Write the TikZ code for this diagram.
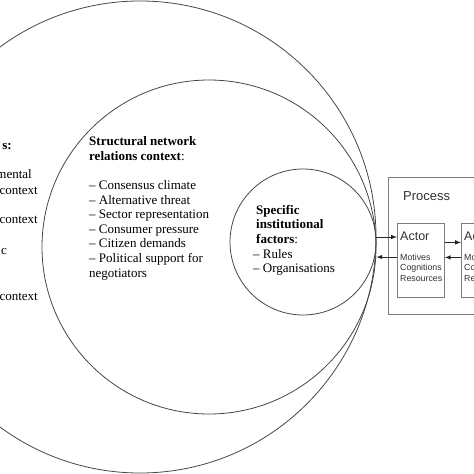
\documentclass[tikz,border=0pt]{standalone}
\usepackage{fontspec}
\setmainfont{Liberation Serif}
\newfontfamily\arialfont{Liberation Sans}
\usepackage{tikz}
\usetikzlibrary{arrows}
\usetikzlibrary{calc}

\definecolor{ringgray}{RGB}{70,70,70}
\definecolor{boxgray}{RGB}{125,125,125}
\definecolor{sanstext}{RGB}{50,50,50}

\tikzset{
  ring/.style={draw, circle, line width=0.8pt, color=ringgray, inner sep=0pt},
  frame/.style={draw, line width=0.8pt, color=boxgray, inner sep=0pt,
                anchor=north west},
  serif/.style={inner sep=0pt, font=\fontsize{13}{14.6}\selectfont, align=left},
  cutword/.style={inner sep=0pt, font=\fontsize{13}{15.2}\selectfont, anchor=base east},
  sans/.style={inner sep=0pt, text=sanstext, anchor=base west},
  flow/.style={-latex, line width=1pt, color=black!85}
}

\begin{document}
\begin{tikzpicture}[x=1pt, y=-1pt]

\useasboundingbox (0,0) rectangle (474,474);
\clip (0,0) rectangle (474,474);

% nested contexts
\node[ring, minimum size=472pt] (outer) at (140,237) {};
\node[ring, minimum size=334pt] (middle) at (209,247) {};
\node[ring, minimum size=146pt] (spec) at (303,242) {};

% outer context (cut off at the left edge)
\node[cutword] (outA) at (12,149.5) {\textbf{s:}};
\node[cutword] (outB) at (32,178.5) {mental};
\node[cutword] (outC) at (38,194.5) {context};
\node[cutword] (outD) at (38,223.5) {context};
\node[cutword] (outE) at (7,254.5) {c};
\node[cutword] (outF) at (38,300.5) {context};

% structural network relations
\node[serif, anchor=north west] (structural) at (89,136.5) {%
\textbf{Structural network}\\
\textbf{relations context}:\\
\mbox{}\\
-- Consensus climate\\
-- Alternative threat\\
-- Sector representation\\
-- Consumer pressure\\
-- Citizen demands\\
-- Political support for\\
negotiators};

% specific institutional factors
\node[serif, anchor=north west] (institutional) at (253,205) {%
\hspace*{3pt}\textbf{Specific}\\
\hspace*{3pt}\textbf{institutional}\\
\hspace*{3pt}\textbf{factors}:\\
-- Rules\\
-- Organisations};

% process
\node[frame, minimum width=150pt, minimum height=137pt] (process) at (388,177) {};
\node[sans, font=\arialfont\fontsize{13}{15}\selectfont] (proclabel) at (403,200) {Process};

\node[frame, minimum width=47pt, minimum height=74pt] (actor) at (397,223) {};
\node[sans, font=\arialfont\fontsize{12.5}{15}\selectfont] (actorname) at (400,240.5) {Actor};
\node[sans, font=\arialfont\fontsize{8.8}{10.5}\selectfont, align=left, anchor=north west]
  (actortraits) at (400,253.5) {Motives\\Cognitions\\Resources};

\node[frame, minimum width=47pt, minimum height=74pt] (actorb) at (461,223) {};
\node[sans, font=\arialfont\fontsize{12.5}{15}\selectfont] (actorbname) at (464,240.5) {Actor};
\node[sans, font=\arialfont\fontsize{8.8}{10.5}\selectfont, align=left, anchor=north west]
  (actorbtraits) at (464,253.5) {Motives\\Cognitions\\Resources};

% connectors
\draw[flow] ([yshift=5pt]spec.east) -- ([yshift=5pt]spec.east -| actor.west);
\draw[flow] ([yshift=-15pt]spec.east -| actor.west) -- ([yshift=-15pt]spec.east);
\draw[flow] ([yshift=18pt]actor.east) -- ([yshift=18pt]actor.east -| actorb.west);
\draw[flow] ([yshift=3pt]actorb.west) -- ([yshift=3pt]actor.east);

\end{tikzpicture}
\end{document}
